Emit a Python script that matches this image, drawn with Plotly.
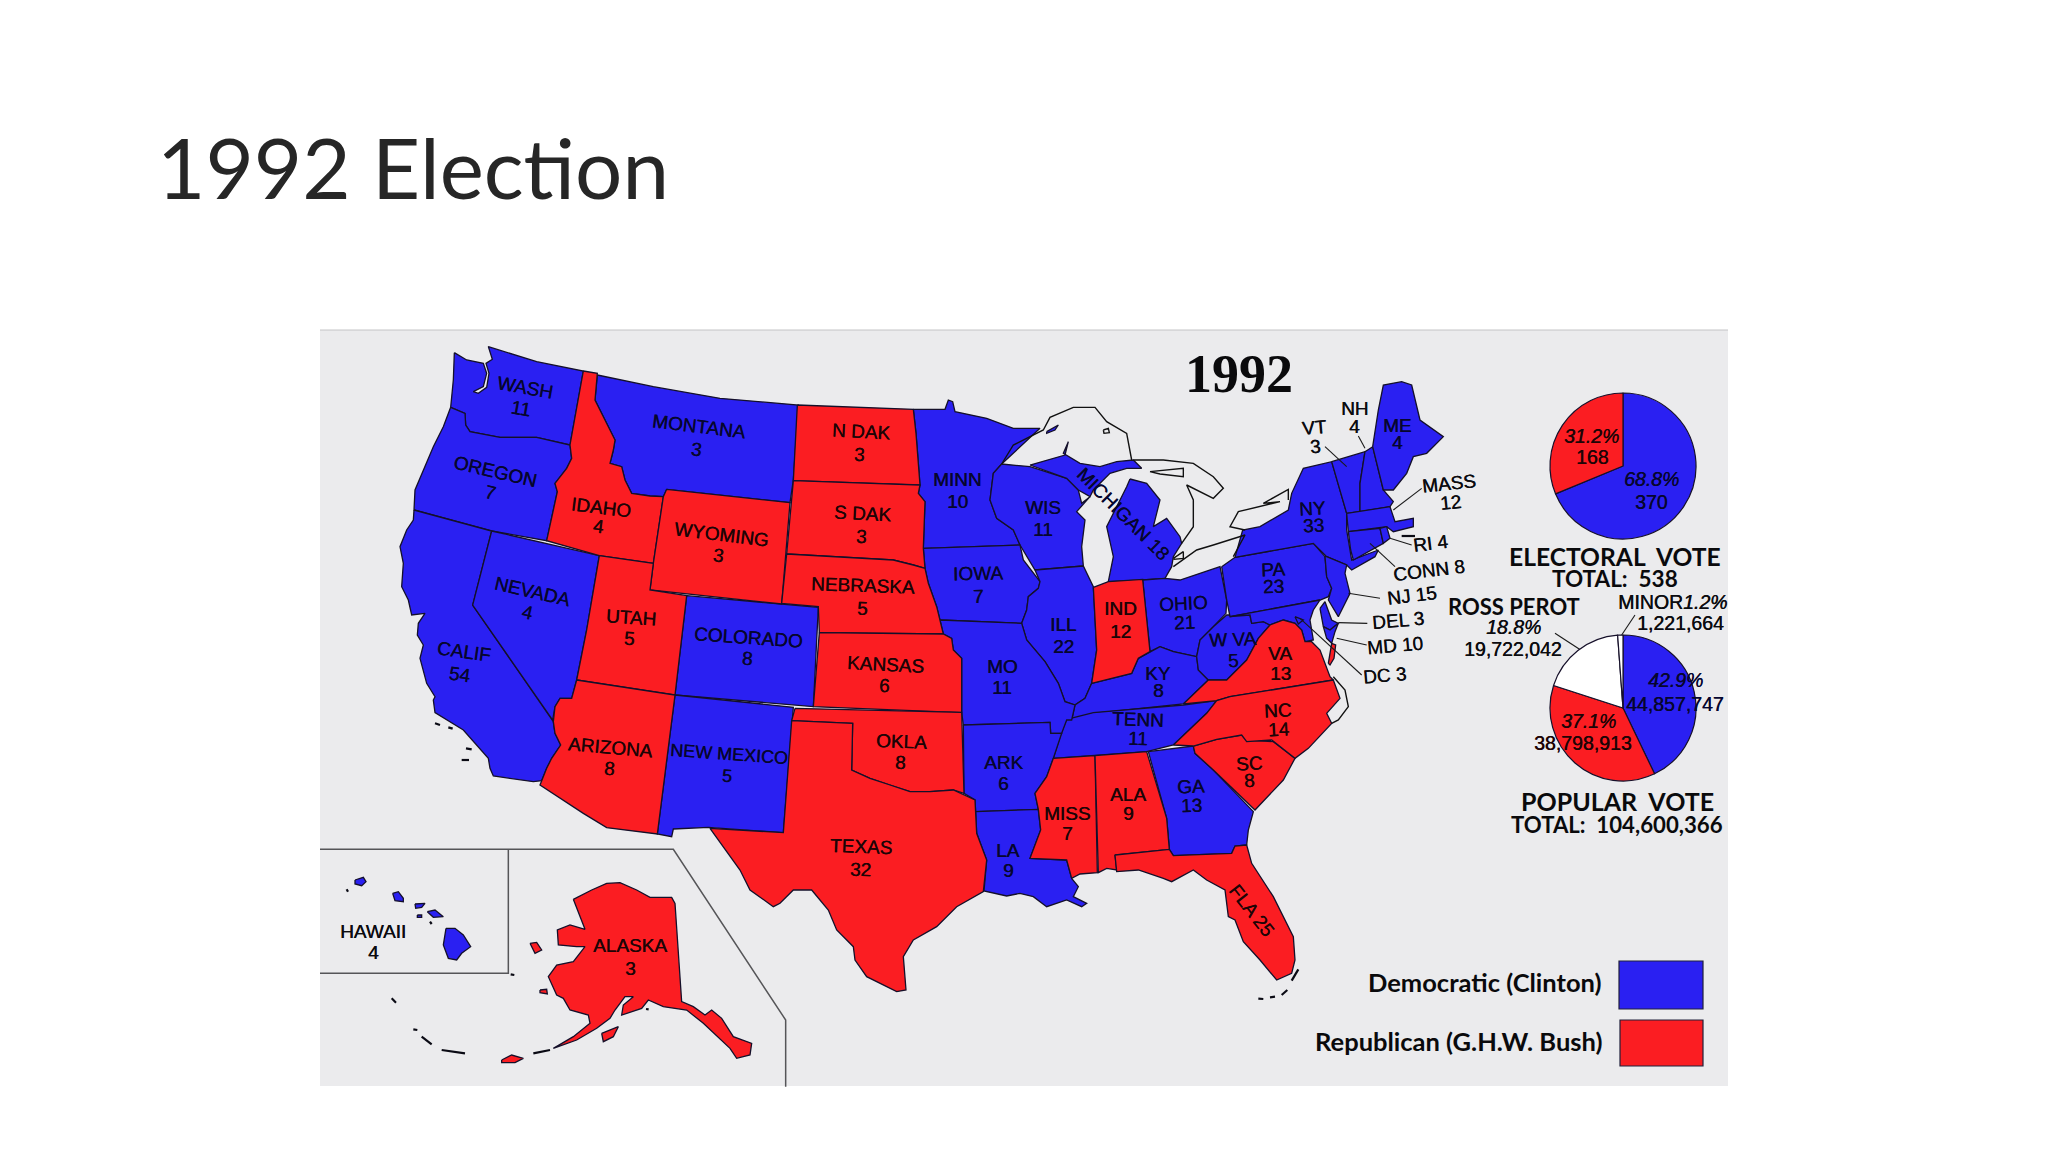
import math
import plotly.graph_objects as go

BLUE = "#2a20f2"
RED = "#fb1d22"
BG = "#ebebed"
INK = "#0c0c14"

CROPS = {"A": (320, 330), "B": (780, 330), "C": (1230, 330),
         "D": (320, 690), "E": (780, 690), "F": (1230, 690)}


def seg(crop, pts):
    ox, oy = CROPS[crop]
    return [(ox + x / 3, oy + y / 3) for x, y in pts]


# ---- values ----
ELECTORAL_NAMES = ["Clinton", "Bush"]
ELECTORAL_VOTES = [370, 168]
POPULAR_NAMES = ["Clinton", "Bush", "Perot", "Minor"]
POPULAR_VOTES = [44857747, 38798913, 19722042, 1221664]
PIE_COLORS_E = [BLUE, RED]
PIE_COLORS_P = [BLUE, RED, "#ffffff", "#ffffff"]

# ---- state outlines ----
WASH = seg("A", [(403,68),(440,90),(490,100),(500,130),(490,170),(460,185),(475,190),(500,172),(507,130),(498,100),(517,88),(505,50),(650,95),(790,123),(750,345),(650,322),(540,322),(450,305),(437,285),(435,250),(392,232),(400,150)])
OREGON = seg("A", [(392,232),(435,250),(437,285),(450,305),(540,322),(650,322),(750,345),(755,385),(740,415),(705,460),(712,485),(680,632),(515,603),(282,540),(285,480),(310,420),(340,350),(370,290)])
CALIF = seg("A", [(282,540),(515,603),(458,825),(698,1170)]) + seg("D", [(700,95),(705,130),(722,165),(695,205),(680,235),(665,272),(640,275),(520,258),(510,235),(505,205),(460,155),(430,120),(345,68),(340,30)]) + seg("A", [(345,1100),(320,1060),(300,985),(310,945),(292,915),(295,880),(315,850),(275,855),(265,810),(245,770),(250,700),(240,650),(260,600),(280,570)])
NEVADA = seg("A", [(515,603),(838,677),(800,900),(770,1050),(755,1105),(720,1105),(705,1130),(698,1170),(458,825)])
IDAHO = seg("A", [(790,123),(832,130),(825,210),(860,280),(885,330),(880,360),(870,400),(905,410),(915,450),(935,490),(990,498),(1030,500),(1000,700),(838,677),(680,632),(712,485),(705,460),(740,415),(755,385),(750,345)])
MONTANA = seg("A", [(832,135),(1000,170),(1200,205),(1435,225),(1420,450),(1410,518),(1040,478),(1030,500),(990,498),(935,490),(915,450),(905,410),(870,400),(880,360),(885,330),(860,280),(825,210)])
WYOMING = seg("A", [(1040,478),(1410,518),(1385,822),(990,780),(1000,700),(1030,500)])
UTAH = seg("A", [(838,677),(1000,700),(990,780),(1100,797),(1065,1095),(770,1050),(800,900)])
COLORADO = seg("A", [(1100,797),(1385,822),(1495,832),(1480,1130),(1065,1095)])
ARIZONA = seg("A", [(770,1050),(1065,1095)]) + seg("D", [(1012,432),(860,413),(790,370),(660,285),(680,235),(695,205),(722,165),(705,130),(700,95),(705,50),(720,25),(755,25)])
NEW_MEXICO = seg("A", [(1065,1095),(1420,1132)]) + seg("D", [(1390,428),(1165,412),(1060,417),(1055,440),(1012,432)])
N_DAK = seg("B", [(52,225),(400,238),(408,310),(420,465),(40,452)])
S_DAK = seg("B", [(40,452),(420,465),(415,490),(435,515),(430,655),(435,715),(400,705),(340,690),(20,672)])
NEBRASKA = seg("B", [(20,672),(340,690),(400,705),(435,715),(445,760),(470,830),(490,912),(118,908),(115,830),(5,820)])
KANSAS = seg("B", [(118,908),(490,912),(515,925),(520,960),(545,985),(545,1148),(100,1130)])
OKLA = seg("E", [(45,55),(545,67),(552,310),(520,300),(450,305),(390,305),(330,285),(270,265),(215,240),(218,100),(35,92)])
TEXAS = seg("E", [(35,92),(218,100),(215,240),(270,265),(330,285),(390,305),(450,305),(520,300),(585,330),(590,430),(620,510),(610,605),(530,650),(470,710),(400,750),(370,800),(378,900),(350,905),(260,860),(225,810),(220,770),(170,720),(145,660),(95,600),(40,600),(0,640)]) + seg("D", [(1360,650),(1290,600),(1260,540),(1170,415),(1390,428)])
MINN = seg("B", [(400,238),(495,238),(505,210),(518,215),(525,245),(620,265),(700,295),(780,295),(665,402),(640,430),(630,510),(650,565),(700,600),(720,645),(430,655),(435,515),(415,490),(420,465),(408,310)])
WIS = seg("B", [(665,402),(750,410),(860,445),(895,480),(905,520),(930,500),(890,545),(915,570),(905,650),(910,708),(765,720),(730,660),(720,645),(700,600),(650,565),(630,510),(640,430)])
MICH_UPPER = seg("B", [(750,405),(855,375),(865,335),(850,370),(900,400),(960,410),(1010,395),(1060,390),(1085,415),(1040,415),(990,430),(940,480),(930,500),(895,480),(860,445)])
MICH_LOWER = seg("B", [(1050,447),(1100,460),(1140,510),(1120,590),(1160,565),(1200,620),(1205,640),(1180,680),(1175,710),(1155,745),(1090,750),(985,755),(1000,680),(980,590),(1040,470)])
ISLE_ROYALE = seg("B", [(800,305),(835,285),(825,300),(800,310)])
IOWA = seg("B", [(430,655),(720,645),(730,690),(780,755),(775,775),(745,800),(740,840),(725,880),(480,870),(470,830),(445,760),(435,715)])
ILL = seg("B", [(765,720),(910,708),(940,770),(950,960),(935,1060),(915,1105),(885,1125),(855,1115),(835,1060),(795,995),(740,930),(725,880),(740,840),(745,800),(775,775),(780,755)])
IND = seg("B", [(940,772),(985,755),(1088,748),(1110,965),(1075,985),(1055,1030),(935,1060),(950,960)])
OHIO = seg("B", [(1088,750),(1155,745),(1200,750),(1320,710),(1340,810),(1338,850),(1300,890),(1260,930),(1250,980),(1180,965),(1140,950),(1110,965)])
KY = seg("B", [(935,1060),(1055,1030),(1075,985),(1110,965),(1140,950),(1180,965),(1250,980),(1255,1020),(1285,1050),(1210,1122),(1000,1145),(940,1150),(875,1170),(885,1125),(915,1105)])
W_VA = seg("B", [(1250,980),(1260,930),(1300,890),(1340,855),(1410,855)]) + seg("C", [(65,880),(100,875),(120,885),(85,925),(50,990),(-10,1050)]) + seg("B", [(1285,1050),(1255,1020)])
VA = seg("B", [(1210,1122),(1285,1050),(1340,1050)]) + seg("C", [(50,990),(85,925),(120,885),(160,870),(195,880),(215,900),(225,935),(245,935),(270,960),(300,1040),(310,1050),(0,1100)]) + seg("B", [(1310,1112)])
VA_SHORE = seg("C", [(295,1000),(305,940),(317,945),(312,985),(300,1005)])
TENN = seg("E", [(860,88),(940,68),(1210,45),(1310,32),(1280,70),(1180,165),(1100,185),(945,197),(820,205),(845,125)])
MO = seg("B", [(480,870),(725,880),(740,930),(795,995),(835,1060),(855,1115),(885,1125),(875,1170)]) + seg("E", [(860,90),(845,130),(812,130),(810,97),(550,105),(545,67)]) + seg("B", [(545,985),(520,960),(515,925),(490,912)])
ARK = seg("E", [(550,105),(810,97),(812,130),(845,130),(820,205),(800,260),(765,310),(775,358),(587,365),(585,330),(552,310)])
LA = seg("E", [(587,365),(775,358),(782,420),(750,505),(860,510),(875,565),(895,590),(880,620),(920,640),(905,650),(860,630),(800,650),(760,620),(720,610),(680,618),(612,603),(620,510),(590,430)])
MISS = seg("E", [(820,205),(945,197),(952,548),(900,552),(875,565),(860,510),(750,505),(782,420),(775,358),(765,310),(800,260)])
ALA = seg("E", [(945,197),(1100,185),(1160,385),(1168,478),(1005,495),(1010,540),(980,535),(955,548)])
GA = seg("E", [(1105,185),(1240,168),(1245,190),(1300,240),(1420,365),(1405,420),(1400,465),(1365,468),(1355,490),(1180,497),(1168,478),(1160,385)])
SC = seg("E", [(1240,168),(1310,148),(1385,135),(1400,150),(1480,155)]) + seg("F", [(195,205),(160,270),(75,360)]) + seg("E", [(1300,240),(1245,190)])
NC = seg("E", [(1180,165),(1280,70),(1310,32),(1350,20)]) + seg("C", [(0,1100),(310,1050)]) + seg("F", [(330,25),(290,70),(305,100),(235,175),(195,205),(125,150),(50,155),(35,135)]) + seg("E", [(1310,148),(1240,168)])
FLA = seg("E", [(1005,495),(1168,478),(1180,497),(1355,490),(1365,468),(1400,465)]) + seg("F", [(65,520),(130,620),(190,740),(195,810),(185,850),(140,870),(90,810),(40,755),(15,690),(-5,680)]) + seg("E", [(1335,600),(1280,570),(1240,540),(1175,575),(1150,565),(1075,540),(1010,545)])
PA = seg("B", [(1325,710),(1365,682)]) + seg("C", [(250,640),(285,680),(290,740),(305,775),(295,800),(270,810),(0,860)]) + seg("B", [(1340,810)])
NY = seg("C", [(15,682),(38,600),(90,590),(175,540),(185,490),(220,415),(305,395),(335,500),(350,550),(350,600),(365,690),(445,660),(435,680),(365,720),(350,705),(290,680),(250,640)])
VT = seg("C", [(305,395),(405,365),(390,460),(390,545),(350,550),(335,500)])
NH = seg("C", [(405,365),(428,350),(460,480),(490,515),(480,530),(390,545),(390,460)])
ME = seg("C", [(428,350),(445,240),(460,165),(515,155),(545,165),(570,270),(640,320),(590,370),(550,380),(530,430),(490,480),(460,480)])
MASS = seg("C", [(350,550),(480,530),(495,575),(550,565),(550,590),(490,605),(470,590),(355,605)])
CONN = seg("C", [(355,605),(450,595),(460,640),(370,690),(362,660)])
RI = seg("C", [(450,595),(470,590),(480,625),(460,640)])
NJ = seg("C", [(290,680),(350,705),(345,730),(360,790),(340,830),(325,860),(295,810),(305,775),(290,740),(285,680)])
DEL = seg("C", [(270,835),(285,815),(305,870),(325,880),(300,900),(280,890)])
MD = seg("C", [(0,860),(270,810),(250,840),(240,870),(250,930),(225,935),(215,900),(195,880),(160,870),(120,885),(100,875),(65,880),(60,855)])
MD_SHORE = seg("C", [(280,890),(300,900),(325,880),(315,905),(305,940),(290,925)])
DC = seg("C", [(195,860),(220,870),(205,882)])
HI_1 = seg("D", [(105,570),(130,562),(138,575),(125,587),(105,582)])
HI_2 = seg("D", [(218,610),(235,605),(250,625),(250,635),(225,632)])
HI_3 = seg("D", [(285,642),(315,640),(305,652),(287,655)])
HI_4 = seg("D", [(322,665),(345,660),(370,680),(340,682)])
HI_5 = seg("D", [(292,675),(305,675),(305,682),(292,682)])
HI_6 = seg("D", [(378,715),(405,715),(430,735),(452,770),(425,790),(410,810),(385,805),(370,765)])
AK_MAIN = seg("D", [(760,628),(815,600),(860,580),(900,578),(950,600),(990,622),(1055,622),(1065,640),(1085,935),(1120,950),(1155,975),(1175,960),(1205,985),(1240,1040),(1295,1060),(1290,1095),(1250,1105),(1230,1075),(1150,1000),(1100,960),(1030,950),(985,930),(965,955),(905,975),(910,945),(940,920),(915,920),(885,960),(870,985),(830,1015),(770,1050),(700,1075),(760,1040),(810,1000),(805,975),(750,960),(730,925),(710,915),(685,860),(710,825),(760,815),(795,770),(770,770),(715,765),(712,720),(750,705),(795,718)])
AK_2 = seg("D", [(630,760),(650,757),(665,780),(645,790)])
AK_3 = seg("D", [(660,900),(680,898),(682,912),(660,908)])
AK_4 = seg("D", [(845,1030),(895,1010),(880,1040),(850,1055)])
AK_5 = seg("D", [(545,1110),(575,1095),(610,1105),(585,1118),(545,1118)])

DEM_SHAPES = [WASH, OREGON, CALIF, NEVADA, MONTANA, COLORADO, NEW_MEXICO, MINN, WIS, MICH_UPPER, MICH_LOWER,
              ISLE_ROYALE, IOWA, ILL, OHIO, KY, W_VA, TENN, MO, ARK, LA, GA, PA, NY, VT, NH, ME, MASS, CONN, RI,
              NJ, DEL, MD, MD_SHORE, DC, HI_1, HI_2, HI_3, HI_4, HI_5, HI_6]
REP_SHAPES = [IDAHO, WYOMING, UTAH, ARIZONA, N_DAK, S_DAK, NEBRASKA, KANSAS, OKLA, TEXAS, IND, VA, VA_SHORE,
              MISS, ALA, SC, NC, FLA, AK_MAIN, AK_2, AK_3, AK_4, AK_5]

# lake, coast and inset outlines
LAKE_LINES = [
    seg("B", [(665,402),(700,345),(790,300),(810,262),(880,232),(945,232),(980,275),(1040,310),(1055,390)]),
    seg("B", [(1060,390),(1150,390),(1240,400),(1300,440),(1330,475),(1300,505),(1220,465),(1240,510),(1240,590),(1205,640)]),
    seg("B", [(1110,425),(1210,415),(1210,440),(1140,432),(1110,425)]),
    seg("B", [(970,300),(985,295),(988,308),(972,310),(970,300)]),
    seg("B", [(1180,710),(1215,685),(1250,660),(1300,645),(1395,615),(1360,680)]),
    seg("B", [(1180,685),(1210,665),(1210,685),(1180,688)]),
    seg("B", [(1395,600),(1350,590),(1375,545),(1500,515)]) + seg("C", [(100,520),(175,478),(175,510)]),
    seg("C", [(310,1040),(345,1080),(355,1130),(325,1170),(305,1180)]),
]
LEADERS = [
    seg("C", [(285,350),(350,410)]), seg("C", [(385,318),(405,355)]), seg("C", [(575,475),(490,540)]),
    seg("C", [(545,645),(480,625)]), seg("C", [(495,710),(420,640)]), seg("C", [(450,805),(355,790)]),
    seg("C", [(412,880),(325,878)]), seg("C", [(410,945),(320,925)]), seg("C", [(395,1035),(210,865)]),
    seg("C", [(975,910),(1075,975)]), seg("C", [(1215,855),(1175,915)]),
]
INSET_LINES = [
    seg("D", [(0,478),(1060,478),(1397,990),(1397,1190)]),
    seg("D", [(565,478),(565,850),(0,850)]),
]
SMALL_ISLES = [
    seg("D", [(345,100),(360,105)]), seg("D", [(385,112),(398,116)]), seg("D", [(438,175),(455,178)]),
    seg("D", [(425,210),(447,210)]), seg("D", [(215,925),(228,938)]), seg("D", [(280,1018),(292,1020)]),
    seg("D", [(305,1040),(335,1063)]), seg("D", [(365,1080),(400,1085),(435,1090)]),
    seg("D", [(640,1090),(690,1080)]), seg("D", [(572,853),(583,855)]), seg("D", [(978,957),(986,958)]),
    seg("D", [(80,598),(84,605)]), seg("D", [(330,695),(335,702)]),
    seg("F", [(85,926),(100,927)]), seg("F", [(120,922),(135,920)]), seg("F", [(155,915),(172,900)]),
    seg("F", [(185,872),(205,838)]), seg("C", [(515,618),(555,618)]),
]

# text: label, centre x, centre y, angle, size, colour group, gap between the two lines
STATE_LABELS = [
    ("WASH|11",523,398,10,19,"d",22),("MONTANA|3",698,438,7,19,"d",23),("OREGON|7",493,482,13,19,"d",22),
    ("IDAHO|4",600,517,7,19,"r",20),("WYOMING|3",720,545,7,19,"r",22),("NEVADA|4",530,602,13,19,"d",22),
    ("UTAH|5",630,628,4,19,"r",22),("COLORADO|8",748,648,4,19,"d",22),("CALIF|54",462,663,8,19,"d",23),
    ("ARIZONA|8",610,758,5,19,"r",22),("NEW MEXICO|5",728,765,4,18,"d",22),("N DAK|3",860,443,3,19,"r",23),
    ("S DAK|3",862,525,3,19,"r",23),("NEBRASKA|5",863,597,2,19,"r",23),("KANSAS|6",885,675,3,19,"r",22),
    ("MINN|10",957,490,0,19,"d",22),("WIS|11",1043,518,0,19,"d",22),("IOWA|7",978,585,-1,19,"d",23),
    ("ILL|22",1063,635,0,19,"d",22),("IND|12",1120,620,0,19,"r",23),("OHIO|21",1184,613,-3,19,"d",20),
    ("MO|11",1002,677,0,19,"d",21),("KY|8",1158,682,0,19,"d",17),("W VA|5",1233,650,-2,19,"d",22),
    ("MICHIGAN 18",1123,513,45,19,"d",0),("OKLA|8",901,752,2,19,"r",22),("TEXAS|32",861,858,2,19,"r",23),
    ("ARK|6",1003,773,0,19,"d",21),("LA|9",1008,860,0,19,"d",20),("MISS|7",1067,823,0,19,"r",20),
    ("ALA|9",1128,804,0,19,"r",19),("GA|13",1191,796,-2,19,"d",20),("TENN|11",1138,729,2,19,"d",19),
    ("SC|8",1249,772,-3,19,"r",17),("FLA 25",1252,910,52,19,"r",0),("NC|14",1278,720,-3,19,"r",19),
    ("VA|13",1280,663,0,19,"r",20),("PA|23",1273,578,-2,19,"d",18),("NY|33",1313,517,-3,19,"d",18),
    ("ME|4",1397,434,0,19,"d",17),("VT|3",1315,437,-5,19,"k",19),("NH|4",1354,417,0,19,"k",18),
    ("MASS|12",1450,493,-6,19,"k",19),("RI 4",1430,543,-7,19,"k",0),("CONN 8",1429,570,-7,19,"k",0),
    ("NJ 15",1412,595,-7,19,"k",0),("DEL 3",1398,620,-5,19,"k",0),("MD 10",1395,645,-5,19,"k",0),
    ("DC 3",1384,675,-5,19,"k",0),("HAWAII|4",373,942,0,19,"k",21),("ALASKA|3",630,957,0,19,"r",23),
]
PIE_LABELS = [
    ("<i>31.2%</i>",1591,436,"r"),("168",1592,457,"r"),("<i>68.8%</i>",1651,479,"d"),("370",1651,502,"d"),
    ("<i>18.8%</i>",1513,627,"k"),("19,722,042",1513,649,"k"),("MINOR<i>1.2%</i>",1672,602,"k"),
    ("1,221,664",1680,623,"k"),("<i>42.9%</i>",1675,680,"d"),("44,857,747",1675,704,"d"),
    ("<i>37.1%</i>",1588,721,"r"),("38,798,913",1583,743,"r"),
]
HEADINGS = [
    ("ELECTORAL  VOTE",1615,556,24.6),("TOTAL:  538",1615,578,22.5),("ROSS PEROT",1514,606,22),
    ("POPULAR  VOTE",1617,801,25),("TOTAL:  104,600,366",1617,824,22.2),
]
LEGEND_TEXT = [("Democratic (Clinton)",1604,982),("Republican (G.H.W. Bush)",1604,1041)]
LEGEND_BOXES = [(1619,961,1703,1009,BLUE),(1620,1020,1703,1066,RED)]

LABEL_INK = {"d": "#06062e", "r": "#1e0406", "k": "#0c0c10"}

fig = go.Figure()


def polygon(points, colour, width=1.3, name=""):
    xs = [p[0] for p in points] + [points[0][0]]
    ys = [p[1] for p in points] + [points[0][1]]
    fig.add_trace(go.Scatter(x=xs, y=ys, mode="lines", fill="toself", fillcolor=colour,
                             line=dict(color="#14102a", width=width), hoverinfo="skip", name=name))


def polyline(points, colour, width):
    fig.add_trace(go.Scatter(x=[p[0] for p in points], y=[p[1] for p in points], mode="lines",
                             line=dict(color=colour, width=width), hoverinfo="skip"))


for shape in DEM_SHAPES:
    polygon(shape, BLUE)
for shape in REP_SHAPES:
    polygon(shape, RED)
for line in LAKE_LINES:
    polyline(line, "#111111", 1.4)
for line in LEADERS:
    polyline(line, "#1a1a1a", 1.1)
for line in INSET_LINES:
    polyline(line, "#555558", 1.5)
for line in SMALL_ISLES:
    polyline(line, "#0a0a14", 2.2)

PIE_R = 73
PIE_CENTERS = [(1623, 466), (1623, 708)]


def pie_domain(cx, cy):
    return dict(x=[(cx - PIE_R) / 2048, (cx + PIE_R) / 2048],
                y=[1 - (cy + PIE_R) / 1152, 1 - (cy - PIE_R) / 1152])


fig.add_trace(go.Pie(labels=ELECTORAL_NAMES, values=ELECTORAL_VOTES, sort=False, direction="clockwise", rotation=0,
                     domain=pie_domain(*PIE_CENTERS[0]), textinfo="none", hoverinfo="label+value",
                     marker=dict(colors=PIE_COLORS_E, line=dict(color="#16102a", width=1.2))))
fig.add_trace(go.Pie(labels=POPULAR_NAMES, values=POPULAR_VOTES, sort=False, direction="clockwise", rotation=0,
                     domain=pie_domain(*PIE_CENTERS[1]), textinfo="none", hoverinfo="label+value",
                     marker=dict(colors=PIE_COLORS_P, line=dict(color="#16102a", width=1.2))))

annotations = []


def note(text, x, y, size, colour=INK, family="Liberation Sans", angle=0, xanchor="center", heavy=False):
    font = dict(family=family, size=size, color=colour)
    if heavy:
        font["shadow"] = f"0.4px 0 0.4px {colour}"
    annotations.append(dict(text=text, x=x, y=y, xref="x", yref="y", showarrow=False, textangle=angle,
                            xanchor=xanchor, yanchor="middle", align="center", font=font))


for text, x, y, angle, size, group, gap in STATE_LABELS:
    rows = text.split("|")
    rad = math.radians(angle)
    for i, row in enumerate(rows):
        off = (i - (len(rows) - 1) / 2) * gap
        note(row, x - off * math.sin(rad), y + off * math.cos(rad), size, LABEL_INK[group], angle=angle, heavy=True)
for text, x, y, group in PIE_LABELS:
    note(text, x, y, 19.5, LABEL_INK[group], heavy=True)
for text, x, y, size in HEADINGS:
    note("<b>" + text + "</b>", x, y, size, "#0a0a0c", family="Lato")
for text, x, y in LEGEND_TEXT:
    note("<b>" + text + "</b>", x, y, 25.5, "#0a0a0c", family="Lato", xanchor="right")
note("<b>1992</b>", 1239, 374, 54, "#0a0a0c", family="Liberation Serif")
note("1992 Election", 155, 167, 83.5, "#262626", family="Lato", xanchor="left")

shapes = [dict(type="rect", xref="x", yref="y", x0=320, y0=330, x1=1728, y1=1086,
               fillcolor=BG, line=dict(width=0), layer="below"),
          dict(type="line", xref="x", yref="y", x0=320, y0=330, x1=1728, y1=330,
               line=dict(color="#c4c4c6", width=1), layer="below")]
for x0, y0, x1, y1, colour in LEGEND_BOXES:
    shapes.append(dict(type="rect", xref="x", yref="y", x0=x0, y0=y0, x1=x1, y1=y1,
                       fillcolor=colour, line=dict(color="#20203a", width=1.2)))

fig.update_layout(width=2048, height=1152, margin=dict(l=0, r=0, t=0, b=0), showlegend=False,
                  paper_bgcolor="white", plot_bgcolor="white", annotations=annotations, shapes=shapes,
                  xaxis=dict(range=[0, 2048], visible=False, fixedrange=True),
                  yaxis=dict(range=[1152, 0], visible=False, fixedrange=True))

fig.write_html("out.html", config={"displayModeBar": False}, post_script="document.body.style.margin='0';")
